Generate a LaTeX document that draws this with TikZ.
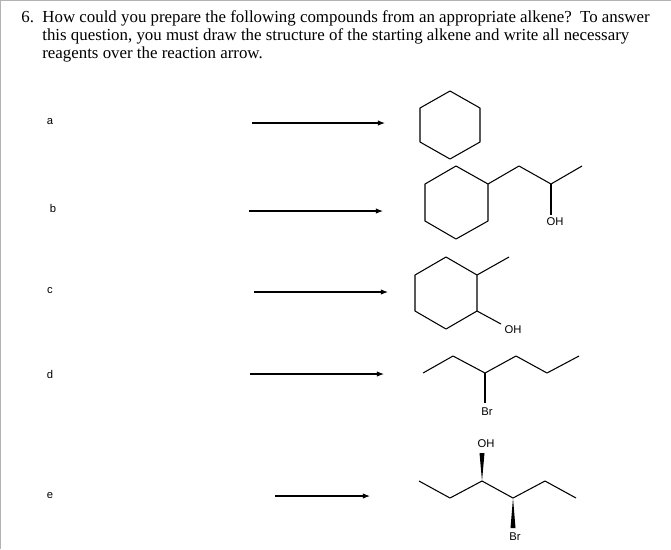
\documentclass[tikz,border=0pt]{standalone}
\usepackage{fontspec}
\usetikzlibrary{arrows.meta}
\setmainfont{Liberation Serif}
\newfontfamily\chemfont{Liberation Sans}
\begin{document}
\begin{tikzpicture}[x=0.02cm,y=-0.02cm,
  bond/.style={line width=0.6pt,line join=round},
  rxn/.style={line width=0.6pt,-{Latex[length=4pt,width=3pt]}},
  lbl/.style={inner sep=0pt,font=\chemfont\fontsize{6.4}{7}\selectfont},
  letter/.style={inner sep=0pt,font=\chemfont\fontsize{6.4}{7}\selectfont},
  txt/.style={inner sep=0pt,anchor=base west,font=\fontsize{9.6}{10}\selectfont}]
\useasboundingbox (0,0) rectangle (671,549);
\draw[gray!60,line width=0.8pt] (671,0.5) -- (0.5,0.5) -- (0.5,549);
\node[txt] (t1) at (21,22) {6.\ \ How could you prepare the following compounds from an appropriate alkene?\ \ To answer};
\node[txt] (t2) at (42,40) {this question, you must draw the structure of the starting alkene and write all necessary};
\node[txt] (t3) at (42,58) {reagents over the reaction arrow.};
% letters
\node[letter] (la) at (50,122) {a};
\node[letter] (lb) at (53,208) {b};
\node[letter] (lc) at (50,291) {c};
\node[letter] (ld) at (50,374) {d};
\node[letter] (le) at (50,496) {e};
% arrows
\coordinate (a1) at (252,123); \coordinate (a2) at (385,123);
\coordinate (b1) at (249,211); \coordinate (b2) at (383,211);
\coordinate (c1) at (254,292); \coordinate (c2) at (388,292);
\coordinate (d1) at (250,374); \coordinate (d2) at (384,374);
\coordinate (e1) at (275,496); \coordinate (e2) at (370,496);
\foreach \r in {a,b,c,d,e} \draw[rxn] (\r1) -- (\r2);
% a
\draw[bond] (450,91) -- (480,108) -- (480,142) -- (450,159) -- (420,142) -- (420,108) -- cycle;
% b
\draw[bond] (456,166) -- (488,184) -- (488,221) -- (456,239) -- (425,221) -- (425,184) -- cycle;
\draw[bond] (488,184) -- (519,166) -- (551,184) -- (582,166);
\node[lbl] (ohb) at (555,222) {OH};
\draw[bond] (551,184) -- (551,215);
% c
\draw[bond] (446,257) -- (477,275) -- (477,311) -- (446,329) -- (415,311) -- (415,275) -- cycle;
\draw[bond] (477,275) -- (509,257);
\node[lbl] (ohc) at (513,330) {OH};
\draw[bond] (477,311) -- (501,324);
% d
\draw[bond] (423,373) -- (453,356) -- (485,373) -- (516,356) -- (547,373) -- (579,356);
\node[lbl] (brd) at (487,412) {Br};
\draw[bond] (485,373) -- (485,403);
% e
\draw[bond] (419,481) -- (450,498) -- (482,481) -- (513,498) -- (545,481) -- (576,498);
\node[lbl] (ohe) at (486,444) {OH};
\node[lbl] (bre) at (515,537) {Br};
\fill (482,481) -- (479.5,453) -- (484.5,453) -- cycle;
\fill (513,498) -- (510.5,528) -- (515.5,528) -- cycle;
\end{tikzpicture}
\end{document}
